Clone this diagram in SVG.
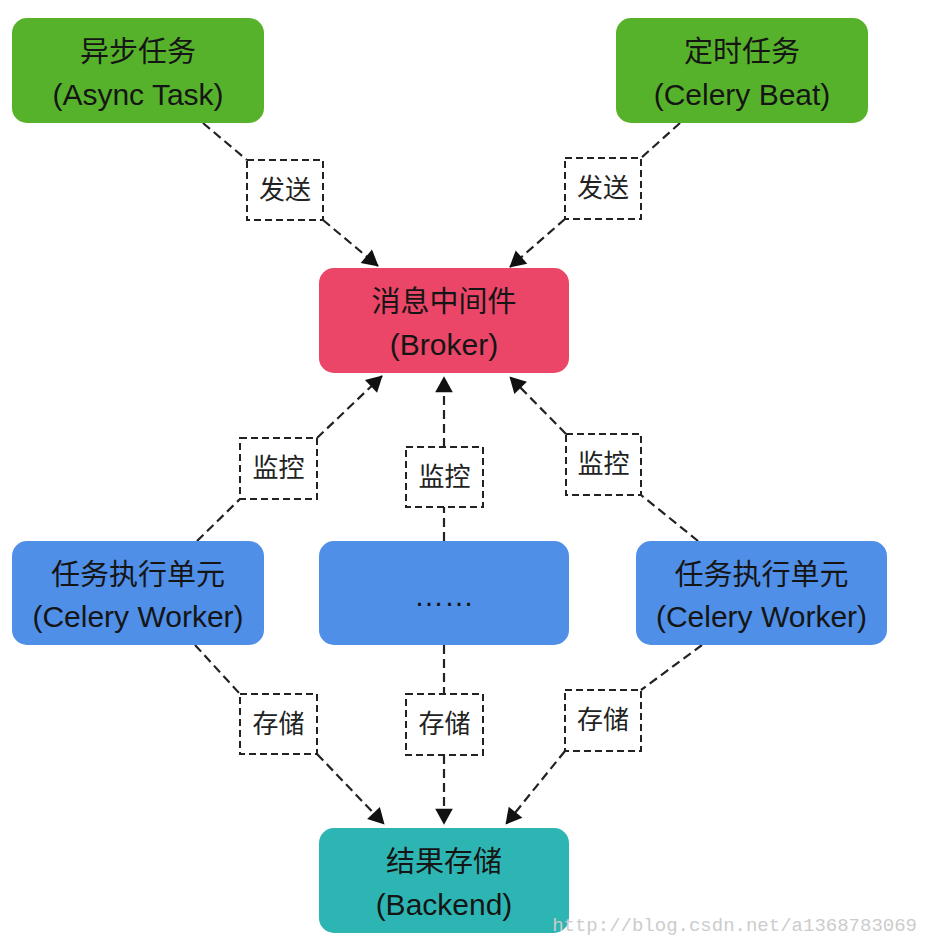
<svg xmlns="http://www.w3.org/2000/svg" width="928" height="944" viewBox="0 0 928 944">
<style>
.node text{font-family:"Liberation Sans","Noto Sans CJK SC",sans-serif;font-size:30px;fill:#151515;text-anchor:middle}
.node .cn{font-family:"Noto Sans CJK SC",sans-serif;font-size:29px}
.lbl rect{fill:#fff;stroke:#222;stroke-width:2;stroke-dasharray:7 4}
.lbl text{font-family:"Noto Sans CJK SC",sans-serif;font-size:26px;fill:#222;text-anchor:middle}
.edge{fill:none;stroke:#222;stroke-width:2.2;stroke-dasharray:9 5}
.arrow{fill:none;stroke:#222;stroke-width:2.2;stroke-dasharray:9 5;marker-end:url(#ah)}
.green{fill:#57b22b}
.red{fill:#eb4668}
.blue{fill:#4f8fe8}
.teal{fill:#2db5b3}
</style>
<defs>
<marker id="ah" viewBox="0 0 10 10" refX="9" refY="5" markerWidth="8" markerHeight="8" markerUnits="userSpaceOnUse" orient="auto" overflow="visible">
<path d="M-10,-6 L10,5 L-10,16 z" fill="#111"/>
</marker>
</defs>
<rect width="928" height="944" fill="#fff"/>
<g id="connectors">
<path class="edge" d="M203,123 L247,160"/>
<path class="arrow" d="M323,220 L378,266"/>
<path class="edge" d="M680,123 L641,158"/>
<path class="arrow" d="M565,219 L510,267"/>
<path class="edge" d="M197,541 L240,499"/>
<path class="arrow" d="M317,438 L382,376"/>
<path class="edge" d="M444,541 L444,507"/>
<path class="arrow" d="M444,447 L444,377"/>
<path class="edge" d="M698,541 L641,495"/>
<path class="arrow" d="M566,434 L510,377"/>
<path class="edge" d="M195,645 L240,694"/>
<path class="arrow" d="M317,754 L384,824"/>
<path class="edge" d="M444,645 L444,694"/>
<path class="arrow" d="M444,755 L444,824"/>
<path class="edge" d="M702,645 L641,690"/>
<path class="arrow" d="M565,751 L506,824"/>
</g>
<g id="label-send-1" class="lbl"><rect x="247" y="160" width="76" height="60"/><text x="285" y="199">发送</text></g>
<g id="label-send-2" class="lbl"><rect x="565" y="158" width="76" height="61"/><text x="603" y="197">发送</text></g>
<g id="label-mon-1" class="lbl"><rect x="240" y="438" width="77" height="61"/><text x="278.5" y="477">监控</text></g>
<g id="label-mon-2" class="lbl"><rect x="406" y="447" width="77" height="60"/><text x="444.5" y="486">监控</text></g>
<g id="label-mon-3" class="lbl"><rect x="566" y="434" width="75" height="61"/><text x="603.5" y="473">监控</text></g>
<g id="label-store-1" class="lbl"><rect x="240" y="694" width="77" height="60"/><text x="278.5" y="733">存储</text></g>
<g id="label-store-2" class="lbl"><rect x="406" y="694" width="77" height="61"/><text x="444.5" y="733">存储</text></g>
<g id="label-store-3" class="lbl"><rect x="565" y="690" width="76" height="61"/><text x="603" y="729">存储</text></g>
<g id="async-task" class="node"><rect class="green" x="12" y="18" width="252" height="105" rx="15"/><text class="cn" x="138" y="62">异步任务</text><text x="138" y="105">(Async Task)</text></g>
<g id="celery-beat" class="node"><rect class="green" x="616" y="18" width="252" height="105" rx="15"/><text class="cn" x="742" y="62">定时任务</text><text x="742" y="105">(Celery Beat)</text></g>
<g id="broker" class="node"><rect class="red" x="319" y="268" width="250" height="105" rx="15"/><text class="cn" x="444" y="312">消息中间件</text><text x="444" y="355">(Broker)</text></g>
<g id="worker-1" class="node"><rect class="blue" x="12" y="541" width="252" height="104" rx="15"/><text class="cn" x="138" y="585">任务执行单元</text><text x="138" y="627">(Celery Worker)</text></g>
<g id="worker-more" class="node"><rect class="blue" x="319" y="541" width="250" height="104" rx="15"/><text x="444" y="606">……</text></g>
<g id="worker-2" class="node"><rect class="blue" x="636" y="541" width="251" height="104" rx="15"/><text class="cn" x="761.5" y="585">任务执行单元</text><text x="761.5" y="627">(Celery Worker)</text></g>
<g id="backend" class="node"><rect class="teal" x="319" y="828" width="250" height="105" rx="15"/><text class="cn" x="444" y="872">结果存储</text><text x="444" y="915">(Backend)</text></g>
<text x="917" y="931" text-anchor="end" font-family="Liberation Mono, monospace" font-size="19" fill="#cccccc">http://blog.csdn.net/a1368783069</text>
</svg>
